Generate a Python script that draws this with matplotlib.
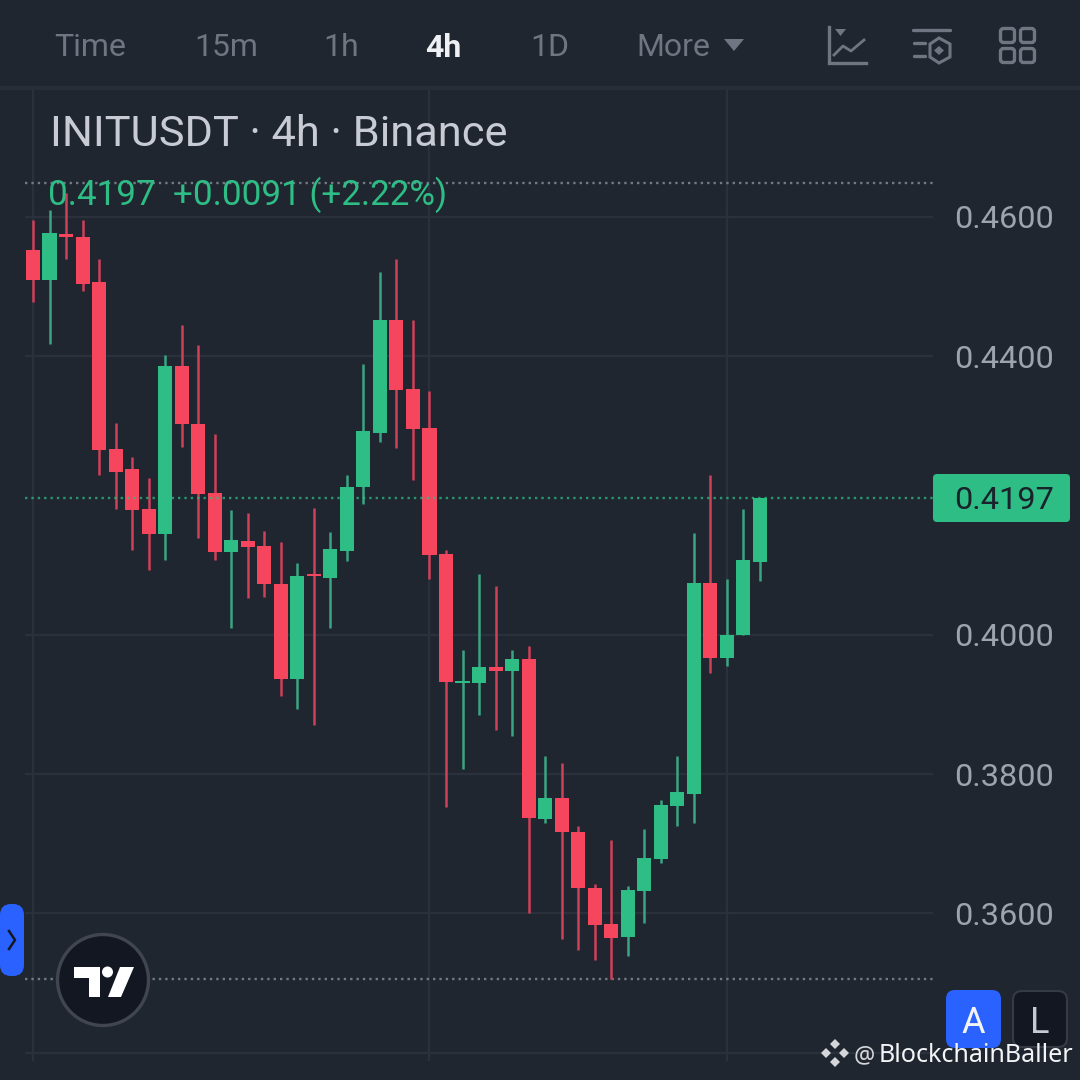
import matplotlib
matplotlib.use('Agg')
import matplotlib.pyplot as plt
from matplotlib.patches import Circle, FancyBboxPatch, Polygon, Rectangle

# Candle values, oldest first
highs = [0.4596, 0.4610, 0.4634, 0.4596, 0.4540, 0.4304, 0.4255, 0.4225, 0.4402, 0.4445,
         0.4416, 0.4288, 0.4179, 0.4175, 0.4149, 0.4133, 0.4103, 0.4182, 0.4148, 0.4229,
         0.4389, 0.4521, 0.4540, 0.4452, 0.4350, 0.4122, 0.3978, 0.4087, 0.4070, 0.3978,
         0.3984, 0.3826, 0.3816, 0.3725, 0.3642, 0.3705, 0.3639, 0.3721, 0.3763, 0.3826,
         0.4146, 0.4229, 0.4080, 0.4181, 0.4197]
opens = [0.4553, 0.4510, 0.4576, 0.4571, 0.4507, 0.4267, 0.4238, 0.4181, 0.4145, 0.4386,
         0.4303, 0.4204, 0.4119, 0.4135, 0.4127, 0.4073, 0.3936, 0.4087, 0.4081, 0.4120,
         0.4212, 0.4290, 0.4452, 0.4353, 0.4297, 0.4116, 0.3931, 0.3931, 0.3954, 0.3948,
         0.3965, 0.3735, 0.3766, 0.3717, 0.3636, 0.3585, 0.3566, 0.3632, 0.3678, 0.3754,
         0.3771, 0.4074, 0.3967, 0.4000, 0.4104]
closes = [0.4510, 0.4577, 0.4571, 0.4504, 0.4265, 0.4234, 0.4179, 0.4145, 0.4386, 0.4303,
          0.4202, 0.4119, 0.4136, 0.4126, 0.4073, 0.3936, 0.4084, 0.4084, 0.4123, 0.4212,
          0.4293, 0.4452, 0.4352, 0.4296, 0.4115, 0.3932, 0.3933, 0.3954, 0.3948, 0.3965,
          0.3737, 0.3766, 0.3717, 0.3636, 0.3583, 0.3564, 0.3633, 0.3679, 0.3755, 0.3774,
          0.4074, 0.3967, 0.4000, 0.4107, 0.4197]
lows = [0.4478, 0.4418, 0.4540, 0.4494, 0.4229, 0.4181, 0.4122, 0.4093, 0.4107, 0.4270,
        0.4139, 0.4107, 0.4010, 0.4053, 0.4054, 0.3912, 0.3893, 0.3870, 0.4010, 0.4106,
        0.4188, 0.4277, 0.4268, 0.4222, 0.4080, 0.3753, 0.3807, 0.3885, 0.3863, 0.3855,
        0.3600, 0.3730, 0.3563, 0.3547, 0.3533, 0.3506, 0.3539, 0.3586, 0.3672, 0.3725,
        0.3730, 0.3945, 0.3955, 0.4000, 0.4077]

price_ticks = [0.46, 0.44, 0.40, 0.38, 0.36, 0.34]
price_labels = ['0.4600', '0.4400', '0.4000', '0.3800', '0.3600', '']
time_ticks = [0, 24, 42]
tabs = ['Time', '15m', '1h', '4h', '1D', 'More']
title = 'INITUSDT · 4h · Binance'
legend_text = '0.4197  +0.0091 (+2.22%)'
last_price = 0.4197
session_high = 0.4649
session_low = 0.3506

bg = '#1f2630'
grid_col = '#2b313c'
green = '#2ebd85'
red = '#f6465d'
green_wick = '#3aa583'
red_wick = '#cf4059'
muted = '#6f7682'
axis_text = '#9ea3ad'
dots = (0, (1, 1.7))

plt.rcParams['font.family'] = ['Roboto', 'DejaVu Sans']

W = 1080
fig = plt.figure(figsize=(10.8, 10.8), dpi=100, facecolor=bg)


def px_axes(left, top, right, bottom):
    return fig.add_axes([left / W, 1 - bottom / W, (right - left) / W, (bottom - top) / W])


# chart area
ax = px_axes(25, 88, 933, 1061)
ax.set_facecolor(bg)
step = 16.52
ax.set_xlim((25 - 33) / step, (933 - 33) / step)
# 0.46 sits at y=217 and one 0.02 step is 139.25 px
price_at = lambda y: 0.46 - (y - 217) / 6962.5
ax.set_ylim(price_at(1061), price_at(88))
for s in ax.spines.values():
    s.set_visible(False)
ax.yaxis.tick_right()
ax.set_yticks(price_ticks)
ax.set_yticklabels(price_labels, fontsize=23.4, color=axis_text, va='center_baseline')
ax.set_xticks(time_ticks)
ax.set_xticklabels([])
ax.tick_params(length=0)
ax.tick_params(axis='y', pad=15.2)
ax.grid(True, color=grid_col, lw=1.6)
ax.set_axisbelow(True)

xs = list(range(len(opens)))
up = [c >= o for o, c in zip(opens, closes)]
body_colors = [green if u else red for u in up]
wick_colors = [green_wick if u else red_wick for u in up]
ax.vlines(xs, lows, highs, colors=wick_colors, lw=1.8, zorder=3)
ax.bar(xs, [max(abs(c - o), 0.00025) for o, c in zip(opens, closes)],
       bottom=[min(o, c) for o, c in zip(opens, closes)],
       width=0.85, color=body_colors, lw=0, zorder=4)

ax.axhline(session_high, color='#737985', lw=1.7, ls=dots, zorder=2)
ax.axhline(session_low, color='#737985', lw=1.7, ls=dots, zorder=2)
ax.axhline(last_price, color=green, lw=1.7, ls=dots, alpha=0.75, zorder=5)

# everything else sits on a pixel overlay
ui = fig.add_axes([0, 0, 1, 1], zorder=10)
ui.set_xlim(0, W)
ui.set_ylim(W, 0)
ui.axis('off')
ui.patch.set_alpha(0)

ui.add_patch(Rectangle((0, 86), W, 4, color='#282e39', lw=0))

# top tabs
tab_x = [54, 194, 323, 425, 530, 636]
for name, x in zip(tabs, tab_x):
    active = name == '4h'
    ui.text(x, 45, name, fontsize=23, color='#eef0f3' if active else muted,
            fontweight='bold' if active else 'normal', va='center_baseline', ha='left')
ui.add_patch(Polygon([(724, 39), (744, 39), (734, 51)], color=muted, lw=0))

# chart type icon
ui.plot([829, 829, 866], [27, 63, 63], color=muted, lw=2.4, solid_joinstyle='miter')
ui.plot([834, 843, 851, 864], [55, 46, 51, 40], color=muted, lw=2)
ui.add_patch(Polygon([(835, 29), (846, 29), (840.5, 36)], color=muted, lw=0))
# settings icon
ui.plot([913, 950], [30, 30], color=muted, lw=2.4, solid_capstyle='round')
ui.plot([914, 925], [43, 43], color=muted, lw=2.4, solid_capstyle='round')
ui.plot([914, 925], [56, 56], color=muted, lw=2.4, solid_capstyle='round')
ui.add_patch(Polygon([(939, 38), (950, 44), (950, 57), (939, 63), (930, 57), (930, 44)],
                     fc='none', ec=muted, lw=2.2))
ui.add_patch(Polygon([(939, 46), (944, 50.5), (939, 55), (934, 50.5)], color=muted, lw=0))
# grid icon
for gx in [1000, 1020]:
    for gy in [28, 48]:
        ui.add_patch(FancyBboxPatch((gx + 2, gy + 2), 11, 11, boxstyle='round,pad=1.5,rounding_size=3',
                                    fc='none', ec=muted, lw=2.4))

# header text
ui.text(49.5, 130.5, title, fontsize=31.2, color='#c8cbd4', va='center_baseline', ha='left')
ui.text(47.5, 190.5, legend_text, fontsize=25.2, color=green, va='center_baseline', ha='left')

# last price badge
ui.add_patch(FancyBboxPatch((935, 476), 133, 44, boxstyle='round,pad=2,rounding_size=4', fc=green, lw=0))
ui.text(954.5, 497.5, '0.4197', fontsize=23.4, color='#1a222b', va='center_baseline', ha='left')

# sidebar handle
ui.add_patch(FancyBboxPatch((2, 906), 20, 68, boxstyle='round,pad=2,rounding_size=11', fc='#2962ff', lw=0))
ui.plot([9, 15, 9], [931, 940, 949], color='#131722', lw=1.8)

# TradingView badge
ui.add_patch(Circle((103, 980), 45.5, fc='#131722', ec='#41454f', lw=2.4))
ui.add_patch(Polygon([(74, 967), (100, 967), (100, 997), (89, 997), (89, 978), (74, 978)], color='white', lw=0))
ui.add_patch(Circle((107.5, 972), 5.5, color='white', lw=0))
ui.add_patch(Polygon([(120, 967), (134, 967), (121, 997), (108, 997)], color='white', lw=0))

# A / L buttons
ui.add_patch(FancyBboxPatch((948, 992), 51, 54, boxstyle='round,pad=2,rounding_size=9', fc='#2962ff', lw=0))
ui.text(973.5, 1019, 'A', fontsize=26, color='#f2f4f8', ha='center', va='center_baseline')
ui.add_patch(FancyBboxPatch((1015, 993), 50, 52, boxstyle='round,pad=2,rounding_size=9',
                            fc='#131722', ec='#363a45', lw=1.5))
ui.text(1040, 1019, 'L', fontsize=26, color='#c5c9d3', ha='center', va='center_baseline')

# watermark
for dx, dy in [(0, -9), (-9, 0), (9, 0), (0, 9)]:
    ui.add_patch(Polygon([(835 + dx, 1053 + dy - 5), (835 + dx + 5, 1053 + dy),
                          (835 + dx, 1053 + dy + 5), (835 + dx - 5, 1053 + dy)], color='#d4d6da', lw=0))
ui.text(854, 1053, '@', fontsize=17, color='#d4d6da', family=['Noto Sans', 'DejaVu Sans'],
        ha='left', va='center_baseline')
ui.text(879, 1053, 'BlockchainBaller', fontsize=18.1, color='#f4f5f7', family=['Noto Sans', 'DejaVu Sans'],
        fontweight='medium', ha='left', va='center_baseline')

fig.savefig('out.png', dpi=100, facecolor=bg)
